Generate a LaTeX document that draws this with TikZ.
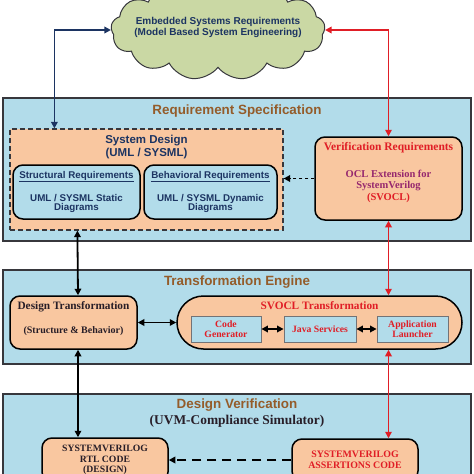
\documentclass[tikz,border=0pt]{standalone}
\usepackage{fontspec}
\setmainfont{Liberation Serif}
\setsansfont{Liberation Sans}
\usetikzlibrary{shapes.symbols,arrows.meta}

\definecolor{panelblue}{RGB}{178,220,234}
\definecolor{peach}{RGB}{249,199,160}
\definecolor{cloudgreen}{RGB}{202,216,164}
\definecolor{darkline}{RGB}{55,55,60}
\definecolor{titlebrown}{RGB}{148,92,42}
\definecolor{navytext}{RGB}{28,52,98}
\definecolor{redtext}{RGB}{224,30,38}
\definecolor{purpletext}{RGB}{150,40,110}
\definecolor{darktext}{RGB}{40,30,40}

\newcommand{\fsz}[1]{\fontsize{#1}{#1}\selectfont}

\begin{document}
\begin{tikzpicture}[x=1pt,y=-1pt,>={Triangle[length=6.5pt,width=6.5pt]},
  panel/.style={draw=darkline,line width=1.6pt,fill=panelblue,inner sep=0pt,minimum width=468pt},
  paneltitle/.style={font=\sffamily\bfseries\fsz{13.4},text=titlebrown},
  peachbox/.style={draw=black,line width=1.5pt,fill=peach,rounded corners=10pt,inner sep=0pt},
  reqbox/.style={draw=black,line width=1.5pt,fill=panelblue,rounded corners=10pt,inner sep=0pt,
    align=center,font=\sffamily\bfseries\fsz{9.8},text=navytext,minimum height=54pt},
  svbox/.style={draw=darkline!70,line width=0.8pt,fill=panelblue,inner sep=0pt,minimum height=26pt,
    align=center,font=\bfseries\fsz{9.7},text=redtext},
  link/.style={line width=1.8pt}]
\path[clip,use as bounding box] (0,0) rectangle (474,474);

% top cloud
\node[cloud,cloud puffs=13,cloud puff arc=115,aspect=2,draw=darkline,line width=1pt,
  fill=cloudgreen,minimum width=214pt,minimum height=100pt,inner sep=0pt] (mbse) at (218,30) {};
\node[align=center,font=\sffamily\bfseries\fsz{10},text=navytext] (mbsetext) at (218,27)
  {Embedded Systems Requirements\\[1pt](Model Based System Engineering)};

% requirement specification
\node[panel,minimum height=143pt] (reqspec) at (237,169.5) {};
\node[paneltitle] (reqspectitle) at (237,111) {Requirement Specification};
\node[draw=darkline,line width=1.2pt,dash pattern=on 5pt off 3pt,fill=peach,inner sep=0pt,
  minimum width=273pt,minimum height=101pt] (sysdesign) at (146.5,179.5) {};
\node[align=center,font=\sffamily\bfseries\fsz{11.5},text=navytext] (sysdesigntitle) at (146.5,147)
  {System Design\\[1pt](UML / SYSML)};
\node[reqbox,minimum width=127pt] (structreq) at (76.5,192)
  {\underline{Structural Requirements}\\[11pt]UML / SYSML Static\\Diagrams};
\node[reqbox,minimum width=133pt] (behavreq) at (210.5,192)
  {\underline{Behavioral Requirements}\\[11pt]UML / SYSML Dynamic\\Diagrams};
\node[peachbox,minimum width=147pt,minimum height=83pt] (verif) at (388.5,178.5) {};
\node[font=\bfseries\fsz{11.5},text=redtext] (veriftitle) at (388.5,148) {Verification Requirements};
\node[align=center,font=\bfseries\fsz{10.5},text=purpletext] (veriftext) at (388.5,186)
  {OCL Extension for\\[1pt]SystemVerilog\\[1pt]\textcolor{redtext}{(SVOCL)}};

% transformation engine
\node[panel,minimum height=94pt] (transeng) at (237,317) {};
\node[paneltitle] (transengtitle) at (237,282) {Transformation Engine};
\node[peachbox,minimum width=127pt,minimum height=53pt] (destrans) at (73.5,322.5) {};
\node[align=center,font=\bfseries\fsz{11.3},text=darktext] (destranstext) at (73.5,318.5)
  {Design Transformation\\[12pt]{\fsz{10}(Structure \& Behavior)}};
\node[peachbox,rounded corners=26.5pt,minimum width=285pt,minimum height=53pt] (svocl) at (319.5,322.5) {};
\node[font=\bfseries\fsz{11.3},text=redtext] (svocltitle) at (319.5,306) {SVOCL Transformation};
\node[svbox,minimum width=70pt] (codegen) at (226,329) {Code\\Generator};
\node[svbox,minimum width=72pt] (java) at (320,329) {Java Services};
\node[svbox,minimum width=71pt] (applaunch) at (412.5,329) {Application\\Launcher};

% design verification
\node[panel,minimum height=100pt] (desver) at (237,444) {};
\node[align=center,font=\bfseries\fsz{13.4},text=darktext] (desvertitle) at (237,413)
  {\textsf{\textcolor{titlebrown}{Design Verification}}\\[2pt](UVM-Compliance Simulator)};
\node[peachbox,minimum width=126pt,minimum height=44pt,align=center,
  font=\bfseries\fsz{9.7},text=darktext] (rtl) at (105,460)
  {SYSTEMVERILOG\\[1pt]RTL CODE\\[1pt](DESIGN)};
\node[peachbox,minimum width=126pt,minimum height=42pt,align=center,
  font=\bfseries\fsz{9.9},text=redtext] (assert) at (355,460)
  {SYSTEMVERILOG\\[1pt]ASSERTIONS CODE};

% connectors
\draw[link,navytext,<->] ([xshift=45pt]sysdesign.north west) |- (mbse.west);
\draw[link,redtext,<->] (verif.north) |- (mbse.east);
\draw[link,dashed,->] (verif.west) -- (verif.west -| sysdesign.east);
\draw[link,<->] ([xshift=68pt]sysdesign.south west) -- ([xshift=4.5pt]destrans.north);
\draw[link,redtext,<->] (verif.south) -- (verif.south |- svocl.north);
\draw[link,<->] (destrans.east) -- (destrans.east -| svocl.west);
\draw[link,<->] (codegen) -- (java);
\draw[link,<->] (java) -- (applaunch);
\draw[link,<->] ([xshift=4.5pt]destrans.south) -- ([xshift=4.5pt]destrans.south |- rtl.north);
\draw[link,redtext,<->] (verif.south |- svocl.south) -- (verif.south |- assert.north);
\draw[link,dashed,dash pattern=on 9pt off 6pt,->] (assert.west) -- (rtl.east);
\end{tikzpicture}
\end{document}
